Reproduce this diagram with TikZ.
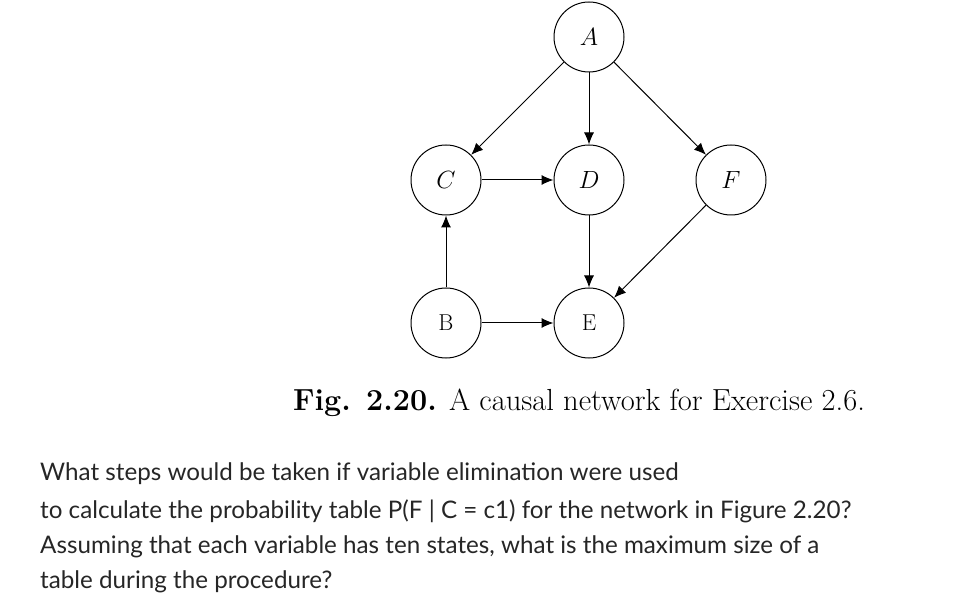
\documentclass[tikz,border=0pt]{standalone}
\usepackage{fontspec}
\newfontfamily\qfont{Lato}
\usetikzlibrary{arrows.meta}
\begin{document}
\begin{tikzpicture}[x=1pt,y=-1pt,
  vnode/.style={circle,draw,line width=1pt,minimum size=70pt,inner sep=0pt,font=\fontsize{23}{26}\selectfont},
  arr/.style={-{Latex[length=12pt,width=10pt]},line width=1pt},
  qline/.style={anchor=west,font=\qfont\fontsize{24.2}{28}\selectfont,text=black!85,inner sep=0pt}]
\useasboundingbox (0,0) rectangle (954,604);
\node[vnode] (A) at (589,37) {$A$};
\node[vnode] (C) at (446,180) {$C$};
\node[vnode] (D) at (589,180) {$D$};
\node[vnode] (F) at (731,180) {$F$};
\node[vnode] (B) at (446,323) {B};
\node[vnode] (E) at (589,323) {E};
\draw[arr] (A) -- (C);
\draw[arr] (A) -- (D);
\draw[arr] (A) -- (F);
\draw[arr] (C) -- (D);
\draw[arr] (D) -- (E);
\draw[arr] (F) -- (E);
\draw[arr] (B) -- (C);
\draw[arr] (B) -- (E);
\node[font=\fontsize{30.5}{34}\selectfont,inner sep=0pt] (cap) at (579,403) {\textbf{Fig. 2.20.} A causal network for Exercise 2.6.};
\node[qline] (q1) at (40,474) {What steps would be taken if variable elimination were used};
\node[qline] (q2) at (40,511) {to calculate the probability table P(F | C = c1) for the network in Figure 2.20?};
\node[qline] (q3) at (40,547) {Assuming that each variable has ten states, what is the maximum size of a};
\node[qline] (q4) at (40,582) {table during the procedure?};
\end{tikzpicture}
\end{document}
